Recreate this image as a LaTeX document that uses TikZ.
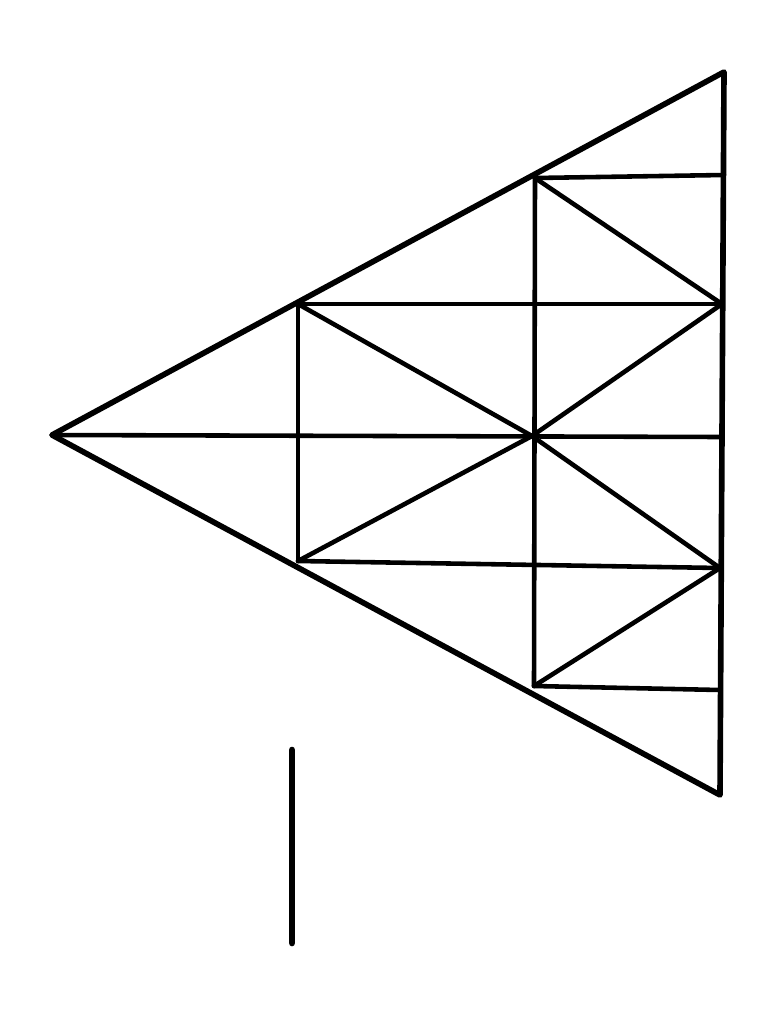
\documentclass[tikz,border=0pt]{standalone}
\begin{document}
\begin{tikzpicture}[x=0.01cm, y=-0.01cm, line cap=round, line join=round]
    \useasboundingbox (0,0) rectangle (768,1024);
    \tikzset{edge/.style={line width=1.3pt}, bar/.style={line width=1.6pt}}

    % Outer triangle
    \coordinate (apex) at (52,435);
    \coordinate (top) at (724,72);
    \coordinate (bot) at (720,795);

    % Points on the slanted sides
    \coordinate (p1) at (298,304);
    \coordinate (p2) at (535,178);
    \coordinate (q1) at (298,561);
    \coordinate (q2) at (534,686);

    % Points on the right side and the centre
    \coordinate (r1) at (724,175);
    \coordinate (r2) at (722,304);
    \coordinate (r3) at (721,437);
    \coordinate (r4) at (720,568);
    \coordinate (r5) at (720,690);
    \coordinate (c) at (532,436);

    \draw[bar] (apex) -- (top) -- (bot) -- cycle;

    % Grid lines
    \draw[edge] (apex) -- (r3);
    \draw[edge] (p1) -- (q1);
    \draw[edge] (p2) -- (q2);
    \draw[edge] (p1) -- (r2);
    \draw[edge] (q1) -- (r4);
    \draw[edge] (p2) -- (r1);
    \draw[edge] (q2) -- (r5);

    % Diagonals
    \draw[edge] (p1) -- (c) -- (r2);
    \draw[edge] (q1) -- (c) -- (r4);
    \draw[edge] (p2) -- (r2);
    \draw[edge] (q2) -- (r4);

    % Bar below
    \coordinate (b1) at (292,750);
    \coordinate (b2) at (292,943);
    \draw[line width=1.9pt] (b1) -- (b2);
\end{tikzpicture}
\end{document}
